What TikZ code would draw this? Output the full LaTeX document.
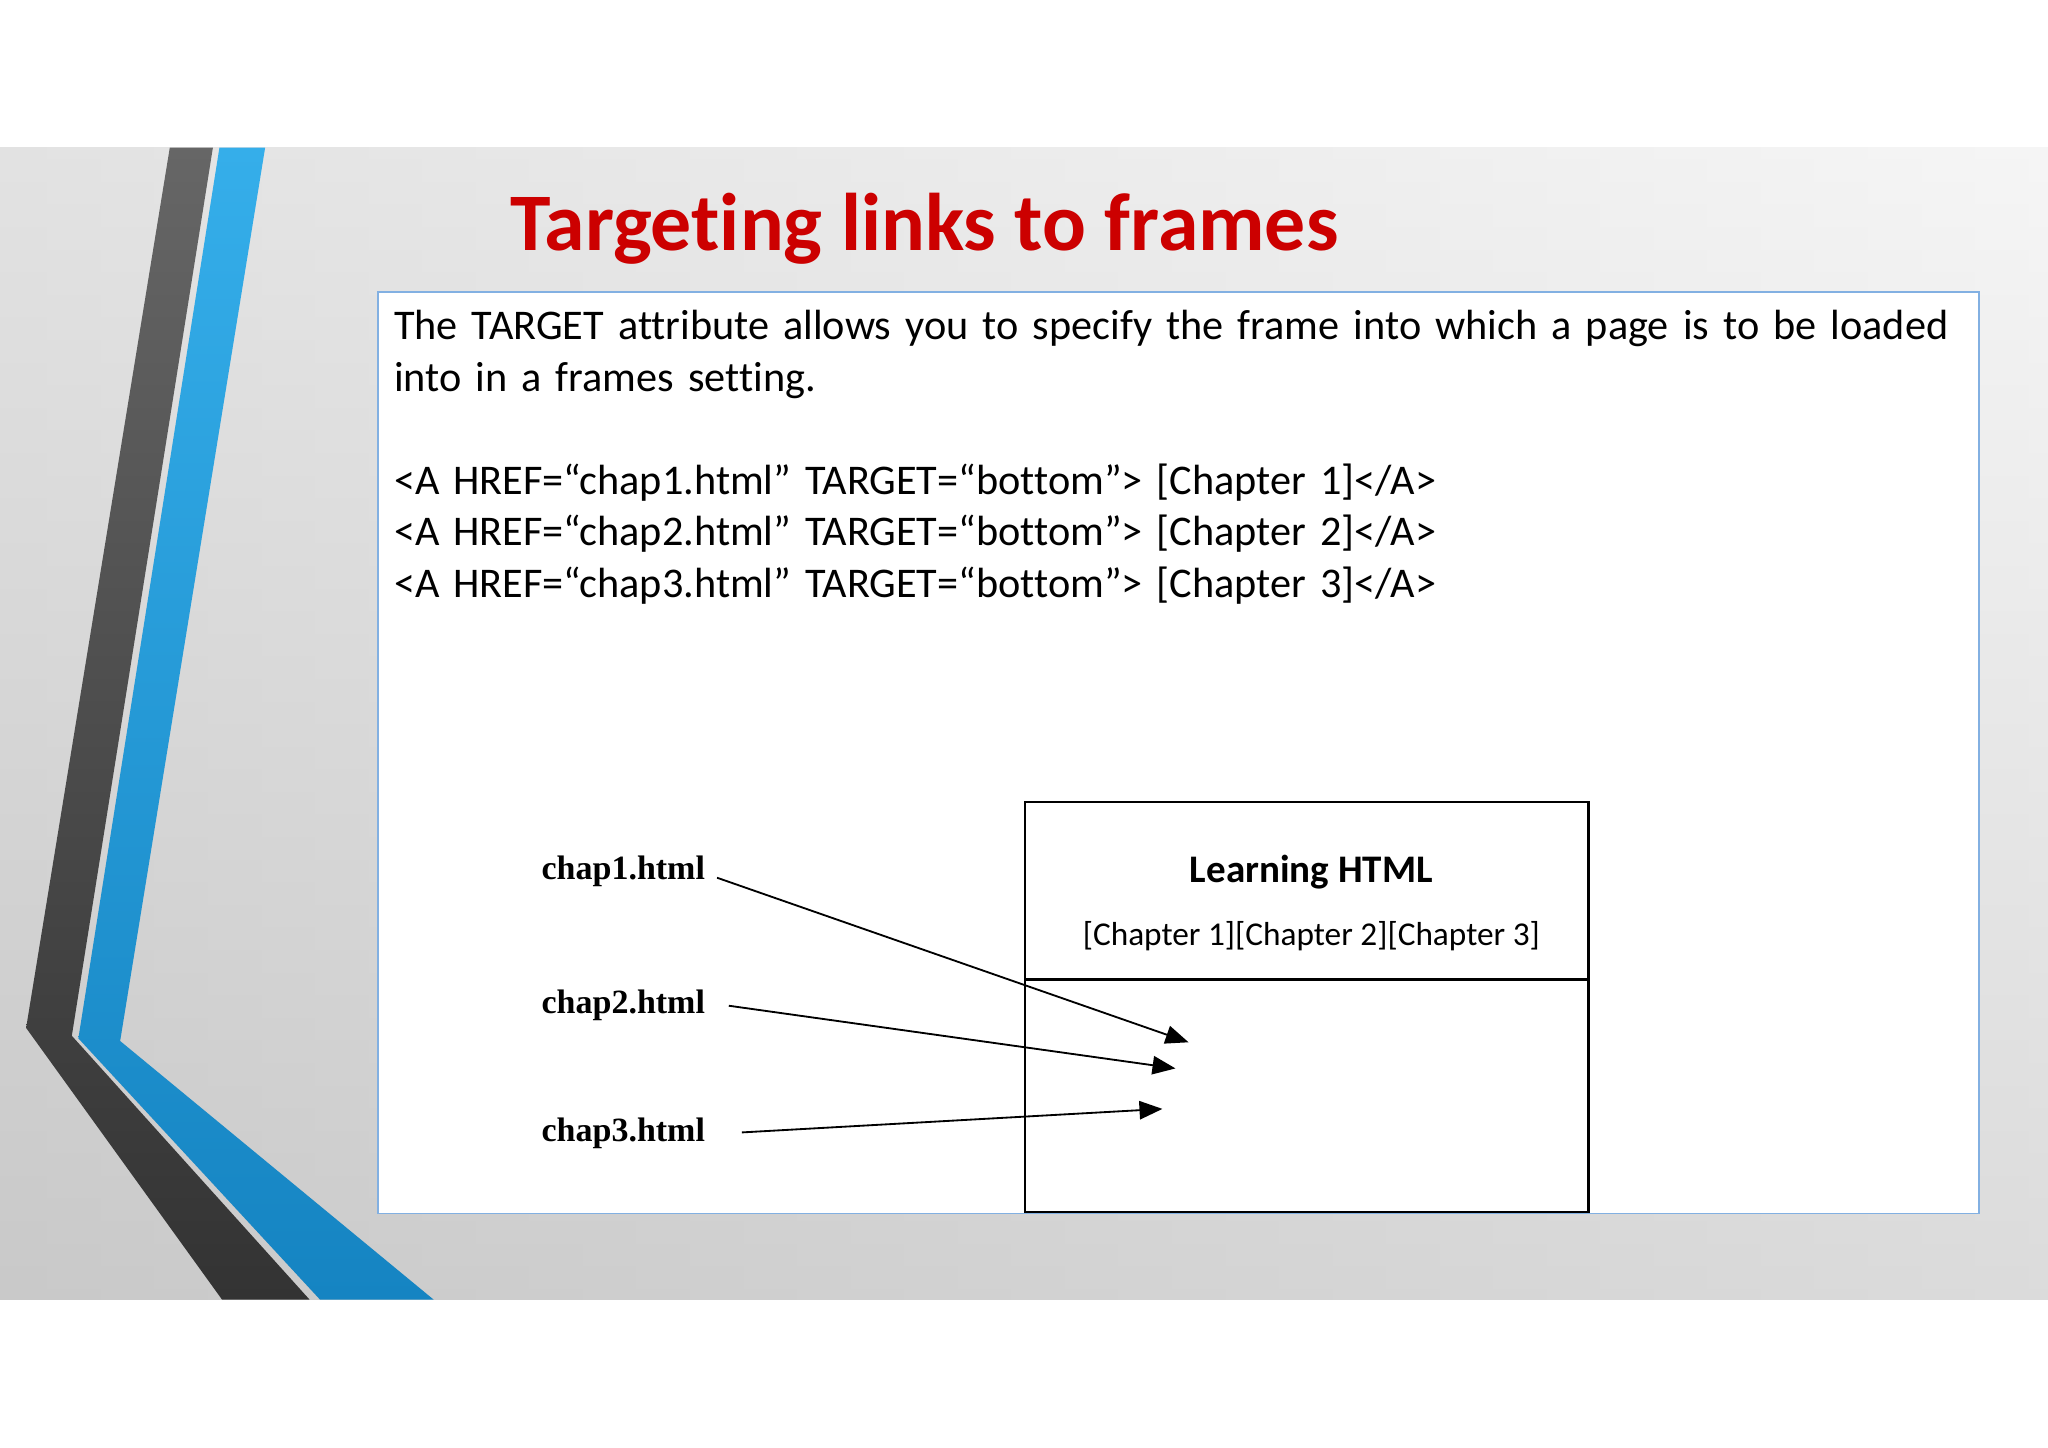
\documentclass[tikz,border=0pt]{standalone}
\usepackage{fontspec}
\setmainfont[Ligatures={NoCommon}]{Carlito}
\newfontfamily\tms{Liberation Serif}
\usetikzlibrary{arrows.meta}
\definecolor{bluetop}{HTML}{35AEEA}
\definecolor{bluebot}{HTML}{1584C2}
\begin{document}
\begin{tikzpicture}[x=0.01cm,y=-0.01cm,
  lbl/.style={font=\tms\fontsize{7.4}{8}\selectfont\bfseries,anchor=west,inner sep=0},
  arr/.style={-{Triangle[length=5pt,width=4pt]},line width=0.4pt}]
\useasboundingbox (0,0) rectangle (1568,1108.6);
\fill[white] (0,0) rectangle (1568,1108.6);
\shade[left color=gray!45,right color=gray!15] (0,113) rectangle (1568,995);
\shade[top color=black!0!white,bottom color=gray!40,opacity=0.5] (0,113) rectangle (1568,995);
\shade[top color=black!60,bottom color=black!80] (130,113)--(163,113)--(55,793)--(237,995)--(170,995)--(20,787)--cycle;
\shade[top color=bluetop,bottom color=bluebot] (168,113)--(203,113)--(92,797)--(332,995)--(245,995)--(60,795)--cycle;
\node[anchor=base west,inner sep=0,text=red!80!black,font=\fontsize{17.8}{22}\selectfont\bfseries] (title) at (390,192) {Targeting links to frames};
\node[draw=cyan!60!blue!50,fill=white,minimum width=12.25cm,minimum height=7.05cm,anchor=north west,inner sep=0] (box) at (289,223) {};
\node[anchor=north west,inner sep=0,text width=11.9cm,font=\fontsize{9.2}{11.2}\selectfont] (txt) at (301,237) {\raggedright The TARGET attribute allows you to specify the frame into which a page is to be loaded into in a frames setting.\\[11.2pt]
<A HREF=“chap1.html” TARGET=“bottom”> [Chapter 1]</A>\\
<A HREF=“chap2.html” TARGET=“bottom”> [Chapter 2]</A>\\
<A HREF=“chap3.html” TARGET=“bottom”> [Chapter 3]</A>\par};
\node[draw,minimum width=4.31cm,minimum height=3.14cm,anchor=north west,inner sep=0,line width=0.5pt] (frame) at (784,613) {};
\coordinate (sl) at (784,750); \coordinate (sr) at (1215,750);
\draw[line width=0.5pt] (sl)--(sr);
\node[font=\fontsize{8.5}{10}\selectfont\bfseries] (lh) at (1004,668) {Learning HTML};
\node[font=\fontsize{7.25}{8}\selectfont] (ch) at (1004,717) {[Chapter 1][Chapter 2][Chapter 3]};
\node[lbl] (c1) at (414,667) {chap1.html};
\node[lbl] (c2) at (414,770) {chap2.html};
\node[lbl] (c3) at (414,868) {chap3.html};
\coordinate (s1) at (549,672); \coordinate (e1) at (910,798);
\coordinate (s2) at (558,770); \coordinate (e2) at (900,818);
\coordinate (s3) at (568,867); \coordinate (e3) at (890,849);
\draw[arr] (s1)--(e1);
\draw[arr] (s2)--(e2);
\draw[arr] (s3)--(e3);
\end{tikzpicture}
\end{document}
